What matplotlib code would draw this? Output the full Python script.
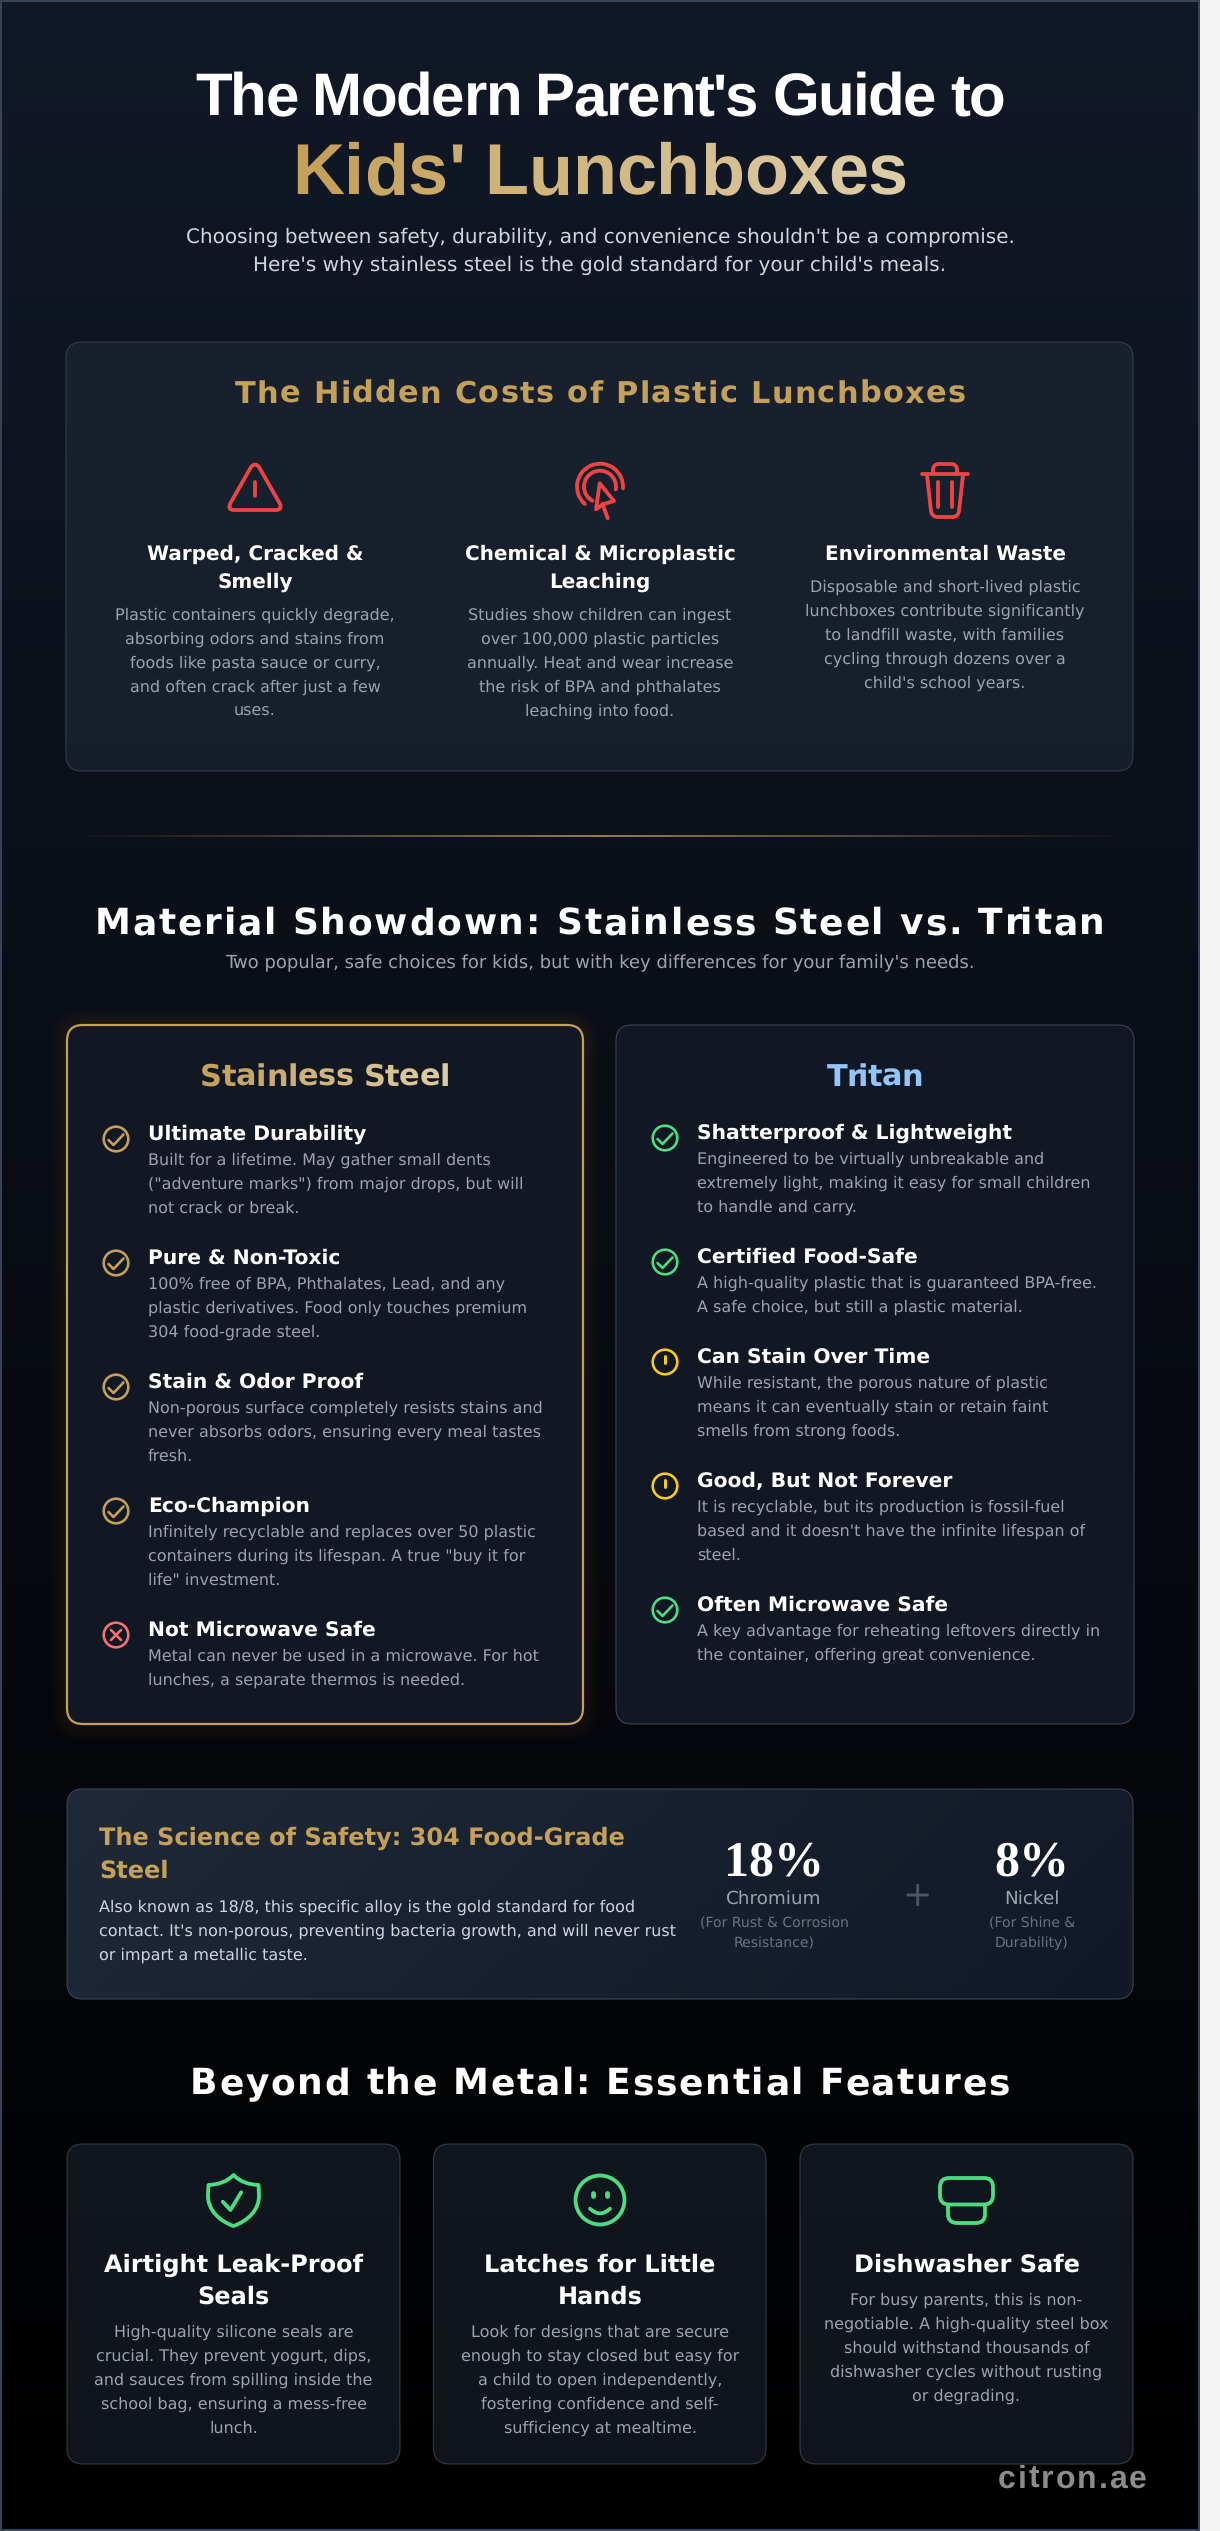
import re
import numpy as np
import matplotlib
matplotlib.use('Agg')
import matplotlib.pyplot as plt
from matplotlib.colors import to_rgb, to_rgba
from matplotlib.patches import Circle, FancyBboxPatch, PathPatch
from matplotlib.path import Path
from matplotlib.text import Text
from matplotlib.transforms import Affine2D

plt.rcParams['text.hinting'] = 'no_hinting'

# TEXT CONTENT
title_top = "The Modern Parent's Guide to"
title_main = "Kids' Lunchboxes"
subtitle = ["Choosing between safety, durability, and convenience shouldn't be a compromise.",
            "Here's why stainless steel is the gold standard for your child's meals."]

costs_heading = "The Hidden Costs of Plastic Lunchboxes"
costs_titles = [["Warped, Cracked &", "Smelly"],
                ["Chemical & Microplastic", "Leaching"],
                ["Environmental Waste"]]
costs_texts = [["Plastic containers quickly degrade,", "absorbing odors and stains from",
                "foods like pasta sauce or curry,", "and often crack after just a few", "uses."],
               ["Studies show children can ingest", "over 100,000 plastic particles",
                "annually. Heat and wear increase", "the risk of BPA and phthalates", "leaching into food."],
               ["Disposable and short-lived plastic", "lunchboxes contribute significantly",
                "to landfill waste, with families", "cycling through dozens over a", "child's school years."]]

showdown_heading = "Material Showdown: Stainless Steel vs. Tritan"
showdown_sub = "Two popular, safe choices for kids, but with key differences for your family's needs."

steel_name = "Stainless Steel"
steel_titles = ["Ultimate Durability", "Pure & Non-Toxic", "Stain & Odor Proof", "Eco-Champion", "Not Microwave Safe"]
steel_kinds = ["gold", "gold", "gold", "gold", "bad"]
steel_texts = [["Built for a lifetime. May gather small dents", "(\"adventure marks\") from major drops, but will",
                "not crack or break."],
               ["100% free of BPA, Phthalates, Lead, and any", "plastic derivatives. Food only touches premium",
                "304 food-grade steel."],
               ["Non-porous surface completely resists stains and", "never absorbs odors, ensuring every meal tastes",
                "fresh."],
               ["Infinitely recyclable and replaces over 50 plastic", "containers during its lifespan. A true \"buy it for",
                "life\" investment."],
               ["Metal can never be used in a microwave. For hot", "lunches, a separate thermos is needed."]]

tritan_name = "Tritan"
tritan_titles = ["Shatterproof & Lightweight", "Certified Food-Safe", "Can Stain Over Time",
                 "Good, But Not Forever", "Often Microwave Safe"]
tritan_kinds = ["good", "good", "warn", "warn", "good"]
tritan_texts = [["Engineered to be virtually unbreakable and", "extremely light, making it easy for small children",
                 "to handle and carry."],
                ["A high-quality plastic that is guaranteed BPA-free.", "A safe choice, but still a plastic material."],
                ["While resistant, the porous nature of plastic", "means it can eventually stain or retain faint",
                 "smells from strong foods."],
                ["It is recyclable, but its production is fossil-fuel", "based and it doesn't have the infinite lifespan of",
                 "steel."],
                ["A key advantage for reheating leftovers directly in", "the container, offering great convenience."]]

science_heading = ["The Science of Safety: 304 Food-Grade", "Steel"]
science_text = ["Also known as 18/8, this specific alloy is the gold standard for food",
                "contact. It's non-porous, preventing bacteria growth, and will never rust",
                "or impart a metallic taste."]
alloy_values = ["18%", "8%"]
alloy_names = ["Chromium", "Nickel"]
alloy_notes = [["(For Rust & Corrosion", "Resistance)"], ["(For Shine &", "Durability)"]]

features_heading = "Beyond the Metal: Essential Features"
feature_titles = [["Airtight Leak-Proof", "Seals"], ["Latches for Little", "Hands"], ["Dishwasher Safe"]]
feature_texts = [["High-quality silicone seals are", "crucial. They prevent yogurt, dips,",
                  "and sauces from spilling inside the", "school bag, ensuring a mess-free", "lunch."],
                 ["Look for designs that are secure", "enough to stay closed but easy for",
                  "a child to open independently,", "fostering confidence and self-", "sufficiency at mealtime."],
                 ["For busy parents, this is non-", "negotiable. A high-quality steel box",
                  "should withstand thousands of", "dishwasher cycles without rusting", "or degrading."]]
watermark = "citron.ae"

# COLOURS
GOLD = '#c5a059'
GOLD_LIGHT = '#dccca6'
RED = '#ef4444'
GREEN = '#4ade80'
GREY = '#9ca3af'
SANS = 'DejaVu Sans'
HEAD = 'Liberation Sans'
SERIF = 'Liberation Serif'
ICON_COLORS = {'gold': GOLD, 'bad': '#f87171', 'good': GREEN, 'warn': '#facc15'}

W, H = 1220, 2531
fig = plt.figure(figsize=(W / 100, H / 100), dpi=100, facecolor='#f4f4f4')
ax = fig.add_axes([0, 0, 1, 1])
ax.set_axis_off()


class SpacedText(Text):
    # one Text with css style letter spacing and a left to right colour ramp
    def __init__(self, x, y, text, fit=None, ramp=None, **kw):
        super().__init__(x, y, text, **kw)
        self.fit = fit
        self.ramp = ramp

    def draw(self, renderer):
        s = self.get_text()
        prop = self.get_fontproperties()
        def tw(t):
            return renderer.get_text_width_height_descent(t, prop, False)[0]
        base = tw('H')
        offs = [0.0] + [tw(s[:i] + 'H') - base for i in range(1, len(s))]
        natural = offs[-1] + tw(s[-1])
        gap = (self.fit - natural) / (len(s) - 1) if self.fit else 0.0
        total = natural + gap * (len(s) - 1)
        px, py = self.get_transform().transform(self.get_position())
        px -= total / 2
        py = renderer.height - py
        for i, ch in enumerate(s):
            if ch == ' ':
                continue
            col = self.get_color()
            if self.ramp:
                u = i / (len(s) - 1)
                a, b = np.array(to_rgb(self.ramp[0])), np.array(to_rgb(self.ramp[1]))
                col = tuple(a + (b - a) * u)
            gc = renderer.new_gc()
            gc.set_foreground(col)
            renderer.draw_text(gc, px + offs[i] + gap * i, py, ch, prop, 0)
            gc.restore()


def put(x, y, s, px, color='white', weight='normal', family=SANS, ha='center'):
    return ax.text(x, y, s, fontsize=px * 0.72, color=color, fontweight=weight, family=family,
                   ha=ha, va='baseline', zorder=6)


def spaced(x, y, s, px, fit, color='white', family=SANS, ramp=None):
    t = SpacedText(x, y, s, fit=fit, ramp=ramp, fontsize=px * 0.72, color=color, fontweight='bold',
                   family=family, ha='center', va='baseline', zorder=6)
    t.set_transform(ax.transData)
    ax.add_artist(t)
    return t


def put_lines(x, y, lines, px, pitch, **kw):
    for i, line in enumerate(lines):
        put(x, y + i * pitch, line, px, **kw)


def box(x0, y0, x1, y1, r=16, face='none', edge='none', lw=1.0, z=2):
    p = FancyBboxPatch((x0, y0), x1 - x0, y1 - y0, boxstyle=f'round,pad=0,rounding_size={r}',
                       facecolor=face, edgecolor=edge, linewidth=lw * 0.72, zorder=z)
    ax.add_patch(p)
    return p


def icon(d, cx, cy, color, lw=3.0, z=5):
    # path string in pixels around the icon centre, only absolute M L Q C Z
    verts, codes = [], []
    tok = re.findall(r'[MLQCZ]|-?[\d.]+', d)
    i = 0
    while i < len(tok):
        c = tok[i]
        i += 1
        if c == 'Z':
            verts.append((0, 0))
            codes.append(Path.CLOSEPOLY)
            continue
        n = {'M': 1, 'L': 1, 'Q': 2, 'C': 3}[c]
        code = {'M': Path.MOVETO, 'L': Path.LINETO, 'Q': Path.CURVE3, 'C': Path.CURVE4}[c]
        for _ in range(n):
            verts.append((cx + float(tok[i]), cy + float(tok[i + 1])))
            codes.append(code)
            i += 2
    ax.add_patch(PathPatch(Path(verts, codes), facecolor='none', edgecolor=color, linewidth=lw * 0.72,
                           capstyle='round', joinstyle='round', zorder=z))


def arc(cx, cy, r, a0, a1, color, lw=3.0):
    path = Affine2D().scale(r).translate(cx, cy).transform_path(Path.arc(a0, a1))
    ax.add_patch(PathPatch(path, facecolor='none', edgecolor=color, linewidth=lw * 0.72,
                           capstyle='round', zorder=5))


def ring(cx, cy, r, color, lw=2.0):
    ax.add_patch(Circle((cx, cy), r, facecolor='none', edgecolor=color, linewidth=lw * 0.72, zorder=5))


def status_icon(kind, cx, cy):
    col = ICON_COLORS[kind]
    ring(cx, cy, 12.3, col, 2.6)
    if kind in ('gold', 'good'):
        icon('M -7.5,1 L -2.5,6 L 7.5,-4.5', cx, cy, col, 2.6)
    elif kind == 'bad':
        icon('M -5,-5 L 5,5 M 5,-5 L -5,5', cx, cy, col, 2.6)
    else:
        icon('M 0,-6 L 0,1 M 0,5.5 L 0,5.7', cx, cy, col, 3.0)


# PAGE BACKGROUND
top, bottom = np.array(to_rgb('#111827')), np.array(to_rgb('#000000'))
ramp = np.linspace(0, 1, 512)[:, None, None] * (bottom - top)[None, None, :] + top
ax.imshow(ramp, extent=(0, 1200, H, 0), aspect='auto', zorder=0, interpolation='bilinear')
for rect in [(0, 0, 1200, 2), (0, H - 2, 1200, 2), (0, 0, 1.5, H), (1198, 0, 2, H)]:
    ax.add_patch(plt.Rectangle(rect[:2], rect[2], rect[3], facecolor='#374357', edgecolor='none', zorder=1))

# HEADER
spaced(600, 115, title_top, 60, 810, family=HEAD)
spaced(600, 194, title_main, 72, 616, family=HEAD, ramp=(GOLD, GOLD_LIGHT))
put_lines(600, 243, subtitle, 20, 28, color='#d1d5db')

# HIDDEN COSTS PANEL
box(66, 342, 1133, 771, face=to_rgba('#1f2937', 0.6), edge=to_rgba('#4b5563', 0.55), lw=1.2)
spaced(600, 403, costs_heading, 30.4, 731, color=GOLD)
cost_x = [255, 600, 945]
cost_icon_y = [488, 488, 490]
icon('M -4,-21 Q 0,-26 4,-21 L 24.5,15 Q 28,22 21,22 L -21,22 Q -28,22 -24.5,15 Z', cost_x[0], cost_icon_y[0], RED, 3.8)
icon('M 0,-6 L 0,8 M 0,13 L 0,13.3', cost_x[0], cost_icon_y[0], RED, 3.8)
arc(cost_x[1], 486.7, 23, 131, 364, RED, 3.8)
arc(cost_x[1], 486.7, 16, 118, 370, RED, 3.8)
icon('M -0.3,-4.7 L -4,21.3 L 2.7,16.3 L 14,13 Z M 2.7,16.3 L 7.7,30.3', cost_x[1], cost_icon_y[1], RED, 3.8)
icon('M -23,-16 L 23,-16', cost_x[2], cost_icon_y[2], RED, 3.8)
icon('M -12,-16 L -12,-20 Q -12,-26 -6,-26 L 6,-26 Q 12,-26 12,-20 L 12,-16', cost_x[2], cost_icon_y[2], RED, 3.8)
icon('M -18,-15 L -14,21 Q -13,27 -7,27 L 7,27 Q 13,27 14,21 L 18,-15', cost_x[2], cost_icon_y[2], RED, 3.8)
icon('M -6.7,-8 L -6.7,17 M 6.7,-8 L 6.7,17', cost_x[2], cost_icon_y[2], RED, 3.8)
for x, head, body in zip(cost_x, costs_titles, costs_texts):
    put_lines(x, 560, head, 20, 28, weight='bold')
    put_lines(x, 560 + 28 * (len(head) - 1) + 32, body, 16, 24, color=GREY)

# DIVIDER
fade = np.zeros((1, 256, 4))
fade[..., :3] = to_rgb(GOLD)
fade[..., 3] = 0.75 * (1 - np.abs(np.linspace(-1, 1, 256)))
ax.imshow(fade, extent=(66, 1133, 837, 835.5), aspect='auto', zorder=2)

# SHOWDOWN
spaced(600, 934, showdown_heading, 36, 1010)
put(600, 968, showdown_sub, 18, color=GREY)

# glow behind the steel card
for k in range(8, 0, -1):
    box(67 - 2 * k, 1025 - 2 * k, 583 + 2 * k, 1724 + 2 * k, r=16 + 2 * k, face=to_rgba(GOLD, 0.012), z=1.5)
box(67, 1025, 583, 1724, face='#111824', edge=GOLD, lw=2.2)
box(616, 1025, 1134, 1724, face='#111824', edge='#374151', lw=1.2)
spaced(325, 1086, steel_name, 30.4, 250, family=SANS, ramp=(GOLD, GOLD_LIGHT))
spaced(875, 1086, tritan_name, 30.4, 97, color='#93c5fd')

steel_y = [1140, 1264, 1388, 1512, 1636]
for y, kind, head, body in zip(steel_y, steel_kinds, steel_titles, steel_texts):
    status_icon(kind, 116, y - 1)
    put(148, y, head, 20.3, weight='bold', ha='left')
    put_lines(148, y + 25, body, 16, 24, color=GREY, ha='left')

tritan_y = [1139, 1263, 1363, 1487, 1611]
for y, kind, head, body in zip(tritan_y, tritan_kinds, tritan_titles, tritan_texts):
    status_icon(kind, 665, y - 1)
    put(697, y, head, 20.3, weight='bold', ha='left')
    put_lines(697, y + 25, body, 16, 24, color=GREY, ha='left')

# SCIENCE PANEL
p = box(67, 1789, 1133, 1999, face='none', edge='#374151', lw=1.2, z=3)
u = np.linspace(0, 1, 256)
v = np.linspace(0, 1, 64)
t = (u[None, :] * 1066 + v[:, None] * 210) / 1276
c0, c1 = np.array(to_rgb('#1f2937')), np.array(to_rgb('#111827'))
im = ax.imshow(c0 + t[..., None] * (c1 - c0), extent=(67, 1133, 1999, 1789), aspect='auto', zorder=2)
im.set_clip_path(p)
put_lines(99, 1845, science_heading, 24, 33, color=GOLD, weight='bold', ha='left')
put_lines(99, 1912, science_text, 16, 24, color='#d1d5db', ha='left')
alloy_x = [774, 1032]
for x, val, name, note in zip(alloy_x, alloy_values, alloy_names, alloy_notes):
    put(x, 1875, val, 50, weight='bold', family=SERIF)
    put(x, 1904, name, 18.4, color=GREY)
    put_lines(x, 1927, note, 14, 20, color='#6b7280')
put(917, 1906, '+', 35, color='#4b5563')

# FEATURES
spaced(600, 2094, features_heading, 36, 820)
feat_box = [(67, 400), (433.5, 766), (800, 1133)]
feat_x = [233.5, 600, 966.5]
for (x0, x1) in feat_box:
    box(x0, 2144, x1, 2464, face=to_rgba('#1f2937', 0.5), edge=to_rgba('#4b5563', 0.6), lw=1.2)
for x, head, body in zip(feat_x, feature_titles, feature_texts):
    put_lines(x, 2272, head, 24, 32, weight='bold')
    put_lines(x, 2272 + 32 * (len(head) - 1) + 33, body, 16, 24, color=GREY)

icon('M 0,-25 C -7,-18 -15,-15.5 -25,-15 L -25.5,-5 C -26,10 -14,21 0,26 C 14,21 26,10 25.5,-5 L 25,-15 C 15,-15.5 7,-18 0,-25 Z',
     feat_x[0], 2200, GREEN, 3.8)
icon('M -10.7,1.7 L -3,10 L 7.7,-7.7', feat_x[0], 2200, GREEN, 3.8)
ring(feat_x[1], 2200, 24.5, GREEN, 3.8)
icon('M -7,-7.5 L -7,-4.5 M 7,-7.5 L 7,-4.5', feat_x[1], 2200, GREEN, 4.8)
icon('M -10,8.7 Q 0,18 10,8.7', feat_x[1], 2200, GREEN, 3.8)
icon('M -17.5,-22 L 17.5,-22 Q 26.5,-22 26.5,-13 L 26.5,-4.5 Q 26.5,4.5 17.5,4.5 L -17.5,4.5 Q -26.5,4.5 -26.5,-4.5 L -26.5,-13 Q -26.5,-22 -17.5,-22 Z',
     feat_x[2], 2200, GREEN, 3.8)
icon('M -18.5,5 L -18.5,14 Q -18.5,23 -9.5,23 L 9.5,23 Q 18.5,23 18.5,14 L 18.5,5', feat_x[2], 2200, GREEN, 3.8)

spaced(1072.5, 2488, watermark, 32, 149, color='#8c8c8c', family=HEAD)

ax.set_xlim(0, W)
ax.set_ylim(H, 0)
fig.savefig('out.png', dpi=100, facecolor=fig.get_facecolor())
